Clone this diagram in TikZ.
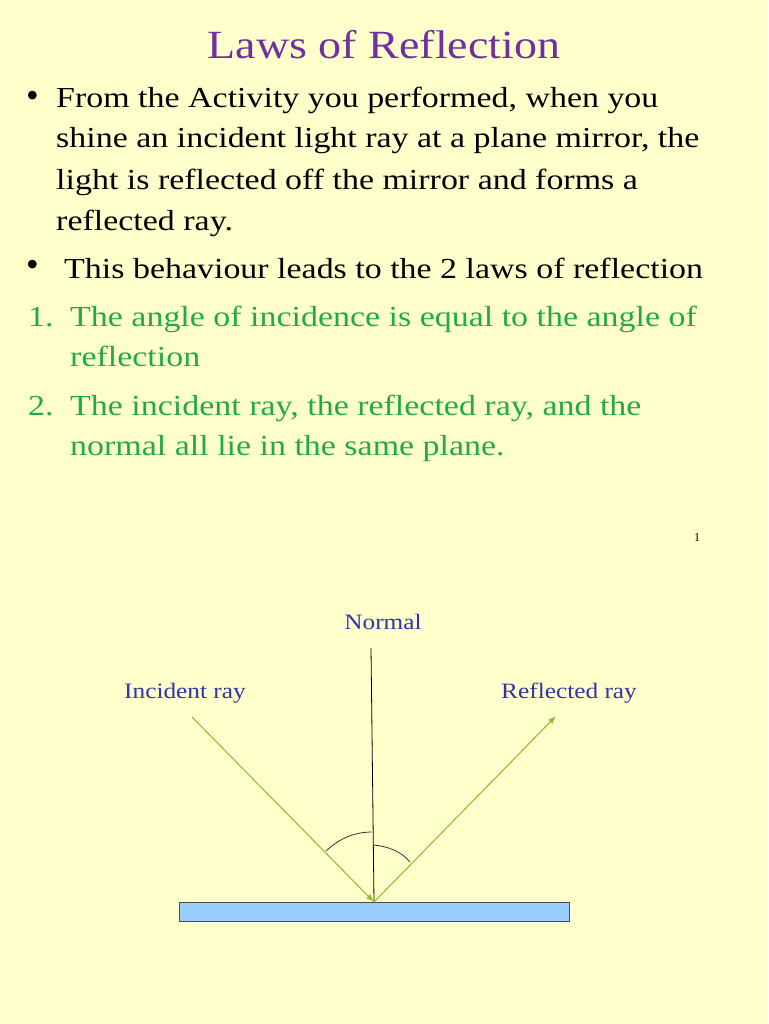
\documentclass[tikz,border=0pt]{standalone}
\usepackage{fontspec}
\setmainfont{Liberation Serif}
\usetikzlibrary{arrows.meta}
\definecolor{bg}{HTML}{FFFFCC}
\definecolor{ttl}{HTML}{7030A0}
\definecolor{grn}{HTML}{22AA44}
\definecolor{lbl}{HTML}{3333AA}
\definecolor{ray}{HTML}{99BB33}
\definecolor{mir}{HTML}{99CCFF}
\tikzset{
 body/.style={anchor=base west,inner sep=0pt,xscale=1.17,font=\fontsize{29}{34}\selectfont},
 gbody/.style={body,text=grn},
 bul/.style={anchor=base west,inner sep=0pt,font=\fontsize{36}{36}\selectfont},
 lab/.style={text=lbl,xscale=1.15,font=\fontsize{22}{26}\selectfont,inner sep=0pt},
 rayline/.style={draw=ray,line width=1.1pt},
}
\begin{document}
\begin{tikzpicture}[x=1pt,y=-1pt]
\fill[bg] (0,0) rectangle (768,1024);
\useasboundingbox (0,0) rectangle (768,1024);
\node[text=ttl,xscale=1.15,font=\fontsize{40}{44}\selectfont,inner sep=0pt] (title) at (384,45) {Laws of Reflection};
\node[bul] (b1) at (26,108) {\textbullet};
\node[body] (l1) at (56,108) {From the Activity you performed, when you};
\node[body] (l2) at (56,148) {shine an incident light ray at a plane mirror, the};
\node[body] (l3) at (56,190) {light is reflected off the mirror and forms a};
\node[body] (l4) at (56,230) {reflected ray.};
\node[bul] (b2) at (26,276) {\textbullet};
\node[body] (l5) at (64,278) {This behaviour leads to the 2 laws of reflection};
\node[gbody] (n1) at (28,326) {1.};
\node[gbody] (l6) at (70,326) {The angle of incidence is equal to the angle of};
\node[gbody] (l7) at (70,366) {reflection};
\node[gbody] (n2) at (28,415) {2.};
\node[gbody] (l8) at (70,415) {The incident ray, the reflected ray, and the};
\node[gbody] (l9) at (70,455) {normal all lie in the same plane.};
\node[inner sep=0pt,font=\fontsize{12}{14}\selectfont] (pg) at (697,538) {1};
\node[lab] (ln) at (383,622) {Normal};
\node[lab] (li) at (185,693) {Incident ray};
\node[lab] (lr) at (569,693) {Reflected ray};
\draw[fill=mir,draw=black!70,line width=0.8pt] (179,902) rectangle (569,921);
\coordinate (hit) at (374,902);
\coordinate (src) at (192,717);
\coordinate (dst) at (556,716);
\coordinate (ntop) at (371,648);
\draw[black,line width=0.8pt] (ntop) -- (hit);
\draw[rayline,-{Latex[length=8pt,width=6pt]}] (src) -- (hit);
\draw[rayline,-{Latex[length=8pt,width=6pt]}] (hit) -- (dst);
\draw[black!80,line width=0.8pt] (326,851) .. controls (340,838) and (355,832) .. (372,832);
\draw[black!80,line width=0.8pt] (373,845) .. controls (388,846) and (402,852) .. (410,862);
\end{tikzpicture}
\end{document}
